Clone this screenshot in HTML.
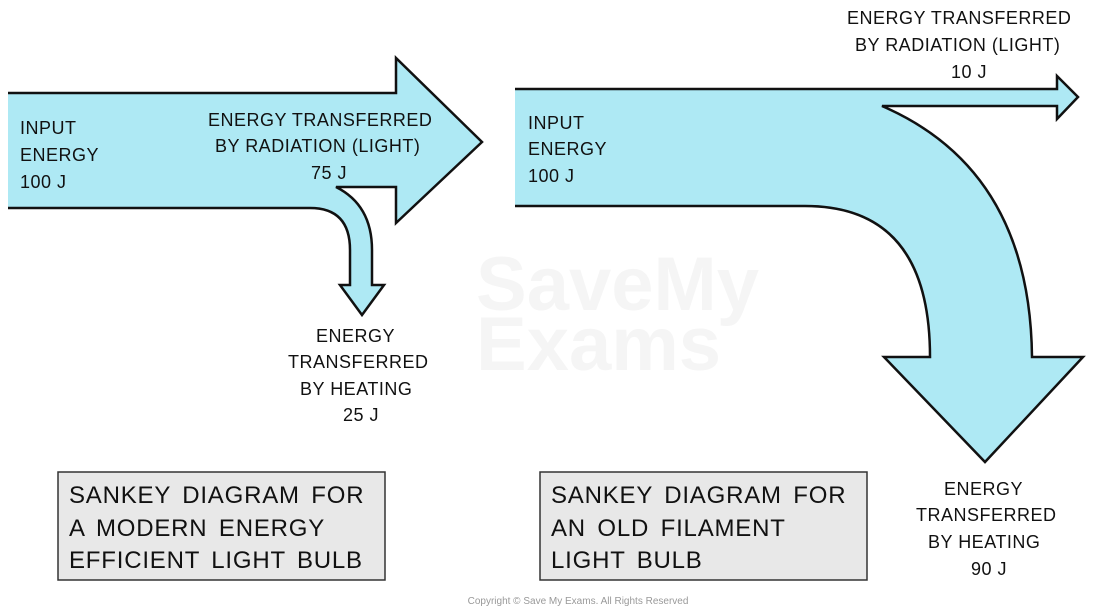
<!DOCTYPE html>
<html><head><style>body{margin:0;background:#fff}svg{display:block}text{font-family:"Liberation Sans",sans-serif;fill:#111}</style></head>
<body>
<svg width="1100" height="612" viewBox="0 0 1100 612" xmlns="http://www.w3.org/2000/svg">
<text x="476" y="310" font-size="76" font-weight="bold" style="fill:#f5f5f5">SaveMy</text>
<text x="476" y="370" font-size="76" font-weight="bold" style="fill:#f5f5f5">Exams</text>
<g fill="#aee9f4" stroke="#111" stroke-width="2.5" stroke-linejoin="miter">
<path d="M8 93 L396 93 L396 58 L482 142 L396 223 L396 187 L336 187 Q372 205 372 250 L372 285 L384 285 L362 315 L340 285 L350 285 L350 250 Q350 208 310 208 L8 208"/>
<path d="M515 89 L1057 89 L1057 76 L1078 97 L1057 119 L1057 106 L882 106 Q1030 170 1032 357 L1083 357 L985 462 L884 357 L930 357 Q930 206 805 206 L515 206"/>
</g>
<g font-size="18" letter-spacing="0.5">
<text x="20" y="134">INPUT</text><text x="20" y="161">ENERGY</text><text x="20" y="188">100 J</text>
<text x="208" y="126">ENERGY TRANSFERRED</text><text x="215" y="152">BY RADIATION (LIGHT)</text><text x="311" y="179">75 J</text>
<text x="316" y="342">ENERGY</text><text x="288" y="368">TRANSFERRED</text><text x="300" y="395">BY HEATING</text><text x="343" y="421">25 J</text>
<text x="528" y="129">INPUT</text><text x="528" y="155">ENERGY</text><text x="528" y="182">100 J</text>
<text x="847" y="24">ENERGY TRANSFERRED</text><text x="855" y="51">BY RADIATION (LIGHT)</text><text x="951" y="78">10 J</text>
<text x="944" y="495">ENERGY</text><text x="916" y="521">TRANSFERRED</text><text x="928" y="548">BY HEATING</text><text x="971" y="575">90 J</text>
</g>
<rect x="58" y="472" width="327" height="108" fill="#e8e8e8" stroke="#333" stroke-width="1.5"/>
<rect x="540" y="472" width="327" height="108" fill="#e8e8e8" stroke="#333" stroke-width="1.5"/>
<g font-size="24" letter-spacing="0.8" word-spacing="4">
<text x="69" y="503">SANKEY DIAGRAM FOR</text><text x="69" y="536">A MODERN ENERGY</text><text x="69" y="568">EFFICIENT LIGHT BULB</text>
<text x="551" y="503">SANKEY DIAGRAM FOR</text><text x="551" y="536">AN OLD FILAMENT</text><text x="551" y="568">LIGHT BULB</text>
</g>
<text x="578" y="604" font-size="10" text-anchor="middle" style="fill:#999">Copyright © Save My Exams. All Rights Reserved</text>
</svg>
</body></html>
